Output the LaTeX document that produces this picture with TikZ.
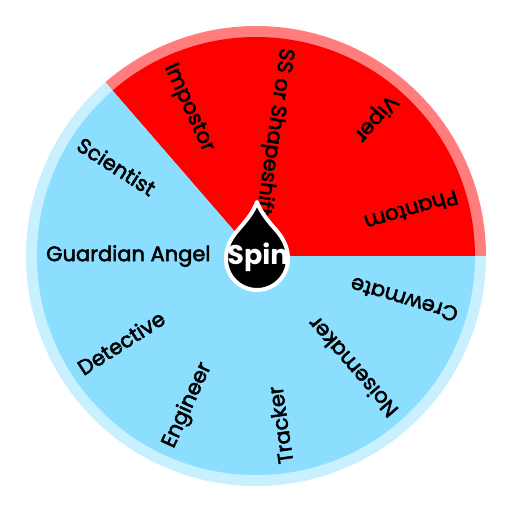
\documentclass[tikz,border=0pt]{standalone}
\usepackage{fontspec}
\setmainfont{Poppins}
\newfontfamily\labfont{Poppins}[FakeBold=2.5]
\usepackage{tikz}
\usetikzlibrary{positioning,calc}
\definecolor{WheelRed}{RGB}{255,0,0}
\definecolor{RimRed}{RGB}{255,125,125}
\definecolor{WheelBlue}{RGB}{140,222,255}
\definecolor{RimBlue}{RGB}{200,240,255}
\tikzset{
  lab/.style={anchor=west,inner sep=0pt,font=\labfont\fontsize{21}{23}\selectfont,text=black},
  knob/.style={fill=black,draw=white,line width=4pt,line join=round},
}

\begin{document}
\begin{tikzpicture}[x=1pt,y=1pt]
\useasboundingbox (-256,-256) rectangle (256,256);
% wheel
\fill[RimRed] (0,0) -- (0:230) arc (0:130.91:230) -- cycle;
\fill[RimBlue] (0,0) -- (130.91:230) arc (130.91:360:230) -- cycle;
\fill[WheelRed] (0,0) -- (0:219) arc (0:130.91:219) -- cycle;
\fill[WheelBlue] (0,0) -- (130.91:219) arc (130.91:360:219) -- cycle;
% labels
\node[lab,rotate=196.36] (phantom) at (16.36:210) {Phantom};
\node[lab,rotate=229.09] (viper) at (49.09:210) {Viper};
\node[lab,rotate=261.82] (shape) at (81.82:210) {SS or Shapeshifter};
\node[lab,rotate=294.55] (impostor) at (114.55:210) {Impostor};
\node[lab,rotate=327.27] (scientist) at (147.27:210) {Scientist};
\node[lab,rotate=0] (angel) at (180:210) {Guardian Angel};
\node[lab,rotate=32.73] (detective) at (212.73:210) {Detective};
\node[lab,rotate=65.45] (engineer) at (245.45:210) {Engineer};
\node[lab,rotate=98.18] (tracker) at (278.18:210) {Tracker};
\node[lab,rotate=130.91] (noisemaker) at (310.91:210) {Noisemaker};
\node[lab,rotate=163.64] (crewmate) at (343.64:210) {Crewmate};
% spin button
\begin{scope}[shift={(1,-3)}]
\draw[knob] (0,57) .. controls (4,46) and (12,37) .. (19,29)
  .. controls (26,21) and (31,12) .. (31,0) arc (0:-180:31)
  .. controls (-31,12) and (-26,21) .. (-19,29)
  .. controls (-12,37) and (-4,46) .. cycle;
\end{scope}
\node[text=white,font=\fontsize{27}{29}\selectfont\bfseries] (spin) at (2,-1) {Spin};
\end{tikzpicture}
\end{document}
